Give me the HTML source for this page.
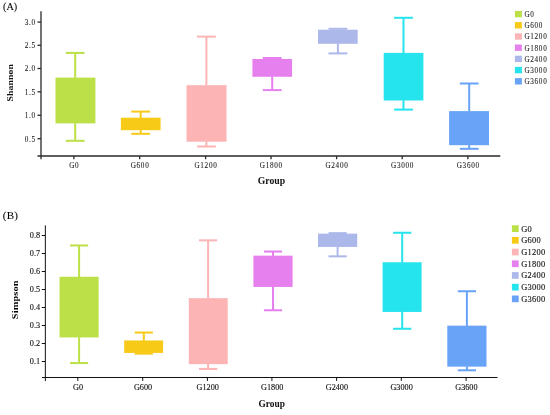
<!DOCTYPE html><html><head><meta charset="utf-8"><title>Alpha diversity</title>
<style>html,body{margin:0;padding:0;background:#fff}svg{display:block}text{font-family:"Liberation Serif","Times New Roman",serif}</style></head><body>
<svg width="550" height="415" viewBox="0 0 550 415">
<rect width="550" height="415" fill="#fff"/>
<text x="3.0" y="9.9" font-size="10.2" fill="#000" stroke="#000" stroke-width="0.08">(A)</text>
<g fill="#BCE047" stroke="none">
<rect x="55.5" y="77.6" width="39.9" height="45.8"/>
<rect x="74.20" y="52.9" width="2.0" height="25.0"/>
<rect x="74.20" y="123.1" width="2.0" height="17.7"/>
<rect x="65.80" y="51.90" width="18.8" height="2.0"/>
<rect x="65.80" y="139.80" width="18.8" height="2.0"/>
</g>
<g fill="#F8CA18" stroke="none">
<rect x="120.9" y="117.7" width="39.7" height="12.5"/>
<rect x="139.70" y="111.6" width="2.0" height="6.4"/>
<rect x="139.70" y="129.9" width="2.0" height="3.9"/>
<rect x="131.30" y="110.60" width="18.8" height="2.0"/>
<rect x="131.30" y="132.80" width="18.8" height="2.0"/>
</g>
<g fill="#FCB4B5" stroke="none">
<rect x="186.5" y="85.2" width="40.0" height="56.5"/>
<rect x="205.40" y="36.6" width="2.0" height="48.9"/>
<rect x="205.40" y="141.4" width="2.0" height="5.1"/>
<rect x="197.00" y="35.60" width="18.8" height="2.0"/>
<rect x="197.00" y="145.50" width="18.8" height="2.0"/>
</g>
<g fill="#E680EF" stroke="none">
<rect x="252.4" y="59.0" width="39.7" height="17.8"/>
<rect x="271.20" y="58.0" width="2.0" height="1.3"/>
<rect x="271.20" y="76.5" width="2.0" height="13.6"/>
<rect x="262.80" y="57.00" width="18.8" height="2.0"/>
<rect x="262.80" y="89.10" width="18.8" height="2.0"/>
</g>
<g fill="#ACB8EA" stroke="none">
<rect x="318.0" y="29.7" width="39.7" height="14.1"/>
<rect x="336.90" y="28.8" width="2.0" height="1.2"/>
<rect x="336.90" y="43.5" width="2.0" height="9.9"/>
<rect x="328.50" y="27.80" width="18.8" height="2.0"/>
<rect x="328.50" y="52.40" width="18.8" height="2.0"/>
</g>
<g fill="#26E4ED" stroke="none">
<rect x="383.7" y="52.9" width="39.7" height="47.6"/>
<rect x="402.50" y="17.8" width="2.0" height="35.4"/>
<rect x="402.50" y="100.2" width="2.0" height="9.4"/>
<rect x="394.10" y="16.80" width="18.8" height="2.0"/>
<rect x="394.10" y="108.60" width="18.8" height="2.0"/>
</g>
<g fill="#69A3F7" stroke="none">
<rect x="449.1" y="111.1" width="39.9" height="34.1"/>
<rect x="468.20" y="83.5" width="2.0" height="27.9"/>
<rect x="468.20" y="144.9" width="2.0" height="3.9"/>
<rect x="459.80" y="82.50" width="18.8" height="2.0"/>
<rect x="459.80" y="147.80" width="18.8" height="2.0"/>
</g>
<g stroke="#2a2a2a" stroke-width="1.3" fill="none">
<path d="M41.0 11.2V159.2M37.5 156.0H500.3"/>
<path d="M37.5 22.1H41.0"/>
<path d="M37.5 45.3H41.0"/>
<path d="M37.5 68.5H41.0"/>
<path d="M37.5 91.8H41.0"/>
<path d="M37.5 115.3H41.0"/>
<path d="M37.5 138.7H41.0"/>
<path d="M73.9 156.0V159.2"/>
<path d="M139.7 156.0V159.2"/>
<path d="M205.6 156.0V159.2"/>
<path d="M271.0 156.0V159.2"/>
<path d="M336.6 156.0V159.2"/>
<path d="M402.2 156.0V159.2"/>
<path d="M467.9 156.0V159.2"/>
</g>
<g font-size="7.2" fill="#222" stroke="#222" stroke-width="0.08" letter-spacing="0.7">
<text x="35.8" y="25.0" text-anchor="end">3.0</text>
<text x="35.8" y="48.2" text-anchor="end">2.5</text>
<text x="35.8" y="71.4" text-anchor="end">2.0</text>
<text x="35.8" y="94.7" text-anchor="end">1.5</text>
<text x="35.8" y="118.2" text-anchor="end">1.0</text>
<text x="35.8" y="141.6" text-anchor="end">0.5</text>
<text x="74.25" y="167.7" text-anchor="middle">G0</text>
<text x="140.04999999999998" y="167.7" text-anchor="middle">G600</text>
<text x="205.95" y="167.7" text-anchor="middle">G1200</text>
<text x="271.35" y="167.7" text-anchor="middle">G1800</text>
<text x="336.95000000000005" y="167.7" text-anchor="middle">G2400</text>
<text x="402.55" y="167.7" text-anchor="middle">G3000</text>
<text x="468.25" y="167.7" text-anchor="middle">G3600</text>
</g>
<text x="271.4" y="183.8" font-size="9.7" font-weight="bold" fill="#111" text-anchor="middle">Group</text>
<text transform="translate(12.8 82.7) rotate(-90) scale(1.07 1)" font-size="9.1" font-weight="bold" fill="#111" text-anchor="middle" letter-spacing="0.1">Shannon</text>
<g font-size="7.2" fill="#2a2a2a" stroke="#2a2a2a" stroke-width="0.1" letter-spacing="0.7">
<rect x="514.9" y="10.9" width="7" height="6.4" fill="#BCE047" stroke="none"/>
<text x="524.4" y="16.9">G0</text>
<rect x="514.9" y="22.1" width="7" height="6.4" fill="#F8CA18" stroke="none"/>
<text x="524.4" y="28.1">G600</text>
<rect x="514.9" y="33.3" width="7" height="6.4" fill="#FCB4B5" stroke="none"/>
<text x="524.4" y="39.3">G1200</text>
<rect x="514.9" y="44.5" width="7" height="6.4" fill="#E680EF" stroke="none"/>
<text x="524.4" y="50.5">G1800</text>
<rect x="514.9" y="55.7" width="7" height="6.4" fill="#ACB8EA" stroke="none"/>
<text x="524.4" y="61.7">G2400</text>
<rect x="514.9" y="66.9" width="7" height="6.4" fill="#26E4ED" stroke="none"/>
<text x="524.4" y="72.9">G3000</text>
<rect x="514.9" y="78.1" width="7" height="6.4" fill="#69A3F7" stroke="none"/>
<text x="524.4" y="84.1">G3600</text>
</g>
<text x="2.7" y="219.3" font-size="11" fill="#000" stroke="#000" stroke-width="0.08" letter-spacing="0.3">(B)</text>
<g fill="#BCE047" stroke="none">
<rect x="59.55" y="276.75" width="39.1" height="60.7"/>
<rect x="78.10" y="245.45" width="2.0" height="31.6"/>
<rect x="78.10" y="337.1" width="2.0" height="25.9"/>
<rect x="70.00" y="244.45" width="18.2" height="2.0"/>
<rect x="70.00" y="362.05" width="18.2" height="2.0"/>
</g>
<g fill="#F8CA18" stroke="none">
<rect x="124.2" y="340.45" width="38.9" height="12.5"/>
<rect x="142.80" y="332.55" width="2.0" height="8.2"/>
<rect x="142.80" y="352.6" width="2.0" height="1.0"/>
<rect x="134.70" y="331.55" width="18.2" height="2.0"/>
<rect x="134.70" y="352.65" width="18.2" height="2.0"/>
</g>
<g fill="#FCB4B5" stroke="none">
<rect x="188.8" y="298.15" width="38.9" height="66.0"/>
<rect x="207.10" y="240.35" width="2.0" height="58.1"/>
<rect x="207.10" y="363.8" width="2.0" height="5.1"/>
<rect x="199.00" y="239.35" width="18.2" height="2.0"/>
<rect x="199.00" y="367.95" width="18.2" height="2.0"/>
</g>
<g fill="#E680EF" stroke="none">
<rect x="253.4" y="255.65" width="39.2" height="31.3"/>
<rect x="272.00" y="251.55" width="2.0" height="4.4"/>
<rect x="272.00" y="286.6" width="2.0" height="23.6"/>
<rect x="263.90" y="250.55" width="18.2" height="2.0"/>
<rect x="263.90" y="309.25" width="18.2" height="2.0"/>
</g>
<g fill="#ACB8EA" stroke="none">
<rect x="318.0" y="233.65" width="39.2" height="13.3"/>
<rect x="336.60" y="233.15" width="2.0" height="0.8"/>
<rect x="336.60" y="246.6" width="2.0" height="9.7"/>
<rect x="328.50" y="232.15" width="18.2" height="2.0"/>
<rect x="328.50" y="255.35" width="18.2" height="2.0"/>
</g>
<g fill="#26E4ED" stroke="none">
<rect x="382.6" y="262.25" width="39.0" height="49.7"/>
<rect x="401.20" y="232.75" width="2.0" height="29.8"/>
<rect x="401.20" y="311.6" width="2.0" height="17.1"/>
<rect x="393.10" y="231.75" width="18.2" height="2.0"/>
<rect x="393.10" y="327.75" width="18.2" height="2.0"/>
</g>
<g fill="#69A3F7" stroke="none">
<rect x="447.3" y="325.65" width="39.2" height="41.0"/>
<rect x="465.90" y="291.25" width="2.0" height="34.7"/>
<rect x="465.90" y="366.3" width="2.0" height="4.0"/>
<rect x="457.80" y="290.25" width="18.2" height="2.0"/>
<rect x="457.80" y="369.30" width="18.2" height="2.0"/>
</g>
<g stroke="#111" stroke-width="1" fill="none">
<path d="M45.35 225.4V381.1M42 377.5H497.5"/>
<path d="M41.8 361.5H45.35"/>
<path d="M41.8 343.5H45.35"/>
<path d="M41.8 325.5H45.35"/>
<path d="M41.8 307.5H45.35"/>
<path d="M41.8 289.5H45.35"/>
<path d="M41.8 271.5H45.35"/>
<path d="M41.8 253.5H45.35"/>
<path d="M41.8 235.5H45.35"/>
<path d="M77.8 377.5V380.9"/>
<path d="M142.7 377.5V380.9"/>
<path d="M207.4 377.5V380.9"/>
<path d="M271.9 377.5V380.9"/>
<path d="M336.6 377.5V380.9"/>
<path d="M401.3 377.5V380.9"/>
<path d="M466.1 377.5V380.9"/>
</g>
<g font-size="8.2" fill="#111" stroke="#111" stroke-width="0.12">
<text x="40.1" y="364.2" text-anchor="end">0.1</text>
<text x="40.1" y="346.2" text-anchor="end">0.2</text>
<text x="40.1" y="328.2" text-anchor="end">0.3</text>
<text x="40.1" y="310.2" text-anchor="end">0.4</text>
<text x="40.1" y="292.2" text-anchor="end">0.5</text>
<text x="40.1" y="274.2" text-anchor="end">0.6</text>
<text x="40.1" y="256.2" text-anchor="end">0.7</text>
<text x="40.1" y="238.2" text-anchor="end">0.8</text>
<text x="78.1" y="389.7" text-anchor="middle">G0</text>
<text x="143.0" y="389.7" text-anchor="middle">G600</text>
<text x="207.70000000000002" y="389.7" text-anchor="middle">G1200</text>
<text x="272.2" y="389.7" text-anchor="middle">G1800</text>
<text x="336.90000000000003" y="389.7" text-anchor="middle">G2400</text>
<text x="401.6" y="389.7" text-anchor="middle">G3000</text>
<text x="466.40000000000003" y="389.7" text-anchor="middle">G3600</text>
</g>
<text x="271.7" y="406.7" font-size="9.4" font-weight="bold" fill="#111" text-anchor="middle">Group</text>
<text transform="translate(18.0 299.8) rotate(-90) scale(1.15 1)" font-size="9.0" font-weight="bold" fill="#000" text-anchor="middle" letter-spacing="0.1">Simpson</text>
<g font-size="8.4" fill="#111" stroke="#111" stroke-width="0.12" letter-spacing="0.25">
<rect x="511.9" y="225.3" width="6.8" height="6.7" fill="#BCE047" stroke="none"/>
<text x="521.3" y="231.6">G0</text>
<rect x="511.9" y="237.0" width="6.8" height="6.7" fill="#F8CA18" stroke="none"/>
<text x="521.3" y="243.3">G600</text>
<rect x="511.9" y="248.7" width="6.8" height="6.7" fill="#FCB4B5" stroke="none"/>
<text x="521.3" y="255.0">G1200</text>
<rect x="511.9" y="260.4" width="6.8" height="6.7" fill="#E680EF" stroke="none"/>
<text x="521.3" y="266.7">G1800</text>
<rect x="511.9" y="272.1" width="6.8" height="6.7" fill="#ACB8EA" stroke="none"/>
<text x="521.3" y="278.4">G2400</text>
<rect x="511.9" y="283.8" width="6.8" height="6.7" fill="#26E4ED" stroke="none"/>
<text x="521.3" y="290.1">G3000</text>
<rect x="511.9" y="295.5" width="6.8" height="6.7" fill="#69A3F7" stroke="none"/>
<text x="521.3" y="301.8">G3600</text>
</g>
</svg></body></html>
